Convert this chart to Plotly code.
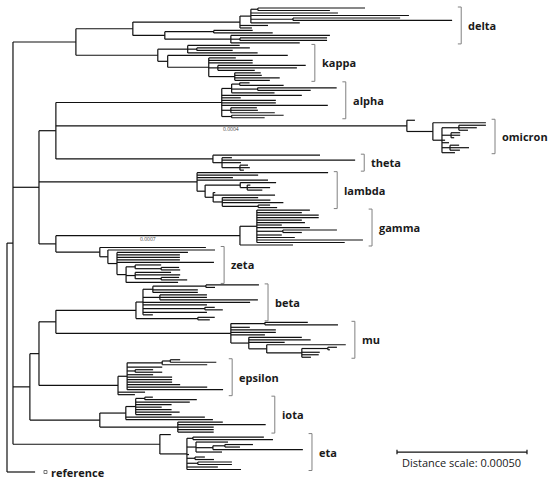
import plotly.graph_objects as go

# Branch lengths are in units of 1e-5 substitutions per site
UNIT = 1e-5

CLADE_ORDER = ["delta", "kappa", "alpha", "omicron", "theta", "lambda", "gamma",
               "zeta", "beta", "mu", "epsilon", "iota", "eta"]

BACKBONE = ("(((delta:21.9,kappa:31.5):24.2,((alpha:63.8,omicron:135,theta:60.4):6.5,"
            "lambda:60.8,(gamma:70.8,zeta:16.9):6.5):10,(((beta:30.8,mu:67.3):6.5,"
            "epsilon:30.4):3.5,iota:26.9):6.5,eta:56.5):2.3,reference:10.8)")

DELTA = ("((((:41.2,:27.7):2.7,:33.5,:60.8,(:41.2,:61.2):16.2,:18.8):4.2,:10.8,:4.6):41.2,"
         "((:15,:22.7):18.8,(:38.1,(:33.5,:33.5):3.5,:26.5):25.4):12.3)")
KAPPA = ("((:20,(:20.4,:13.8):3.5,:26.9):11.5,(:46.2,(:10.4,:16.9,:16.9,(:33.8,:30.4,:14.2):3.5,"
         "(:10,:10.4,:17.3,:13.5):10):15.8):3.8)")
ALPHA = ("(((:3.8,:16.9):3.1,(:30.4,:20.4):10,:16.5):3.8,:30.8,:7.3,:20.8,:20.8,:40.8,"
         "(:10,:10.4,:16.9):3.5,(:20,:12.7):3.8)")
OMICRON = ("(:3.1,(:20.4,((:10.4,:6.9,:3.5):6.5,(:3.5,:3.5,:1.2):3.5,:1.2,:2.7,"
           "(:3.5,:7.3,:3.8):3.1,:5):3.5):10)")
THETA = "(:41.2,(:3.8,:51.2,:7.3,(:3.1,:3.8,:1.5):6.9):3.5)"
LAMBDA = ("(:50.4,:23.5,:13.8,:27.3,((:13.8,(:1.2,:8.8,:5.8):2.7):13.5,(:0.8,:23.8,"
          "(:13.8,:18.5,:23.5,(:4.6,:7.3):13.8):3.5):3.1):3.1)")
GAMMA = ("((:20.4,:17.3,:23.8,:23.8,:17.3,:18.5,:9.6,:20.4,(:20.8,:7.3):10,:9.6,:14.6,"
         ":40.8,:33.8):6.5,:20.4)")
ZETA = ("(:40.8,(:41.2,(:27.3,:24.2,:24.2,:24.2,:37.3,((:10,(:6.9,:7.3):10):3.5,"
        "(:13.8,:17.3,(:6.9,:10):10):3.5,:20):3.5):3.5):3.1)")
BETA = ("((((:20.4,:3.5):20.4,:17.3,:17.3):3.8,(:18.1,:18.1,:37.7):6.5,:41.2,:24.6,"
        "(:3.8,:6.9):23.8,:24.6,:3.8):2.7,(:6.5,:4.6):23.8)")
MU = ("((:16.5,:28.1):13.1,:7.3,:17.3,:17.3,:13.1,(:20.4,:23.8,:13.8,(:30.4,"
      "((:3.5,:0.8):10,:6.9,:6.5,:3.5):13.5):6.9):6.9)")
EPSILON = ("((((:3.8,:17.7):3.1,:17.3):13.5,:13.5,(:6.9,:10.4):3.1,:10,:17.3,:17.3,:17.3,"
           ":20.4,:30.8,:36.9):3.5,:10.4,:6.5)")
IOTA = ("((((:3.1,:20):3.5,:20.8,:13.8,:10,:13.8,:16.9,:13.8):3.8,:30.4,:33.5):10,"
        "(:17.3,:33.8,:13.8,:13.8,:13.8):30)")
ETA = ("(:4.2,((:27.3,:30.8):2.3,(:12.3,((:10.8,:5.8):4.6,:34.6):6.5,:10):3.5,:0.8,"
       "(:3.8,:7.3):3.1,(:13.1,:13.1):4.2,:11.9,:20.8):10.4)")

CLADES = {"delta": DELTA, "kappa": KAPPA, "alpha": ALPHA, "omicron": OMICRON,
          "theta": THETA, "lambda": LAMBDA, "gamma": GAMMA, "zeta": ZETA,
          "beta": BETA, "mu": MU, "epsilon": EPSILON, "iota": IOTA, "eta": ETA}

BRANCH_LABELS = {"omicron": "0.0004", "gamma": "0.0007"}
OUTGROUP = "reference"
SCALE_LENGTH = 0.0005
SCALE_TEXT = "Distance scale: 0.00050"


def parse_newick(s):
    s = s.replace(" ", "").rstrip(";")
    pos = 0

    def node():
        nonlocal pos
        n = {"children": [], "name": "", "len": 0.0}
        if s[pos] == "(":
            pos += 1
            while True:
                n["children"].append(node())
                if s[pos] == ",":
                    pos += 1
                    continue
                if s[pos] == ")":
                    pos += 1
                    break
        start = pos
        while pos < len(s) and s[pos] not in ":,()":
            pos += 1
        n["name"] = s[start:pos]
        if pos < len(s) and s[pos] == ":":
            pos += 1
            start = pos
            while pos < len(s) and s[pos] not in ",()":
                pos += 1
            n["len"] = float(s[start:pos])
        return n

    return node()


def graft(n):
    for i, c in enumerate(n["children"]):
        if not c["children"] and c["name"] in CLADES:
            sub = parse_newick(CLADES[c["name"]])
            sub["len"] = c["len"]
            sub["clade"] = c["name"]
            n["children"][i] = sub
        else:
            graft(c)


tree = parse_newick(BACKBONE)
graft(tree)

counter = [0]


def layout(n, x0):
    n["x0"] = x0
    n["x"] = x0 + n["len"]
    if not n["children"]:
        n["y"] = counter[0]
        counter[0] += 1
        n["tips"] = [n["y"]]
        n["maxx"] = n["x"]
    else:
        for c in n["children"]:
            layout(c, n["x"])
        n["y"] = (n["children"][0]["y"] + n["children"][-1]["y"]) / 2
        n["tips"] = [t for c in n["children"] for t in c["tips"]]
        n["maxx"] = max(c["maxx"] for c in n["children"])


layout(tree, 0.0)

xs, ys = [], []
clade_nodes = {}
outgroup_node = None


def collect(n):
    global outgroup_node
    if n.get("clade"):
        clade_nodes[n["clade"]] = n
    if n["name"] == OUTGROUP:
        outgroup_node = n
    if n is not tree:
        xs.extend([n["x0"] * UNIT, n["x"] * UNIT, None])
        ys.extend([n["y"], n["y"], None])
    if n["children"]:
        xs.extend([n["x"] * UNIT, n["x"] * UNIT, None])
        ys.extend([n["children"][0]["y"], n["children"][-1]["y"], None])
        for c in n["children"]:
            collect(c)


collect(tree)

fig = go.Figure()
fig.add_trace(go.Scatter(x=xs, y=ys, mode="lines",
                         line=dict(color="#111111", width=1.2),
                         hoverinfo="skip", showlegend=False))

LABEL_FONT = dict(family="Open Sans", size=11, color="#1a1a1a")

annotations = []
bx_all, by_all = [], []
for name in CLADE_ORDER:
    n = clade_nodes[name]
    y1 = min(n["tips"]) - 0.4
    y2 = max(n["tips"]) + 0.4
    bx = (n["maxx"] + 3.5) * UNIT
    tick = 1.3 * UNIT
    bx_all.extend([bx - tick, bx, bx, bx - tick, None])
    by_all.extend([y1, y1, y2, y2, None])
    annotations.append(dict(x=bx + 2.0 * UNIT, y=(y1 + y2) / 2, text="<b>%s</b>" % name,
                            showarrow=False, xanchor="left", yanchor="middle",
                            font=LABEL_FONT))
    if name in BRANCH_LABELS:
        annotations.append(dict(x=(n["x0"] + n["x"]) / 2 * UNIT, y=n["y"] + 1.3,
                                text=BRANCH_LABELS[name], showarrow=False,
                                xanchor="center", yanchor="middle",
                                font=dict(family="Open Sans", size=5, color="#444444")))

fig.add_trace(go.Scatter(x=bx_all, y=by_all, mode="lines",
                         line=dict(color="#808080", width=1),
                         hoverinfo="skip", showlegend=False))

# outgroup label with small marker
ox = outgroup_node["x"]
fig.add_trace(go.Scatter(x=[(ox + 4.0) * UNIT], y=[outgroup_node["y"]], mode="markers",
                         marker=dict(symbol="square-open", size=3, color="#555555",
                                     line=dict(width=0.8)),
                         hoverinfo="skip", showlegend=False))
annotations.append(dict(x=(ox + 5.3) * UNIT, y=outgroup_node["y"], text="<b>%s</b>" % OUTGROUP,
                        showarrow=False, xanchor="left", yanchor="middle",
                        font=LABEL_FONT))

# scale bar
sx0 = 150 * UNIT
sy = 178.0
fig.add_trace(go.Scatter(x=[sx0, sx0 + SCALE_LENGTH, None, sx0, sx0, None,
                            sx0 + SCALE_LENGTH, sx0 + SCALE_LENGTH],
                         y=[sy, sy, None, sy - 0.9, sy + 0.9, None, sy - 0.9, sy + 0.9],
                         mode="lines", line=dict(color="#111111", width=1.2),
                         hoverinfo="skip", showlegend=False))
annotations.append(dict(x=sx0 + SCALE_LENGTH / 2, y=sy + 4.3, text=SCALE_TEXT,
                        showarrow=False, xanchor="center", yanchor="middle",
                        font=dict(family="Open Sans", size=11, color="#1a1a1a")))

fig.update_layout(
    width=550, height=483,
    margin=dict(l=0, r=0, t=0, b=0),
    paper_bgcolor="white", plot_bgcolor="white",
    xaxis=dict(visible=False, range=[-2.692 * UNIT, 208.85 * UNIT]),
    yaxis=dict(visible=False, range=[190.41, -3.207]),
    annotations=annotations,
    showlegend=False,
    hovermode=False,
)

# remove the browser's default 8px page margin so the figure sits at the window's corner
fig.write_html("out.html",
               config={"displayModeBar": False, "staticPlot": True},
               post_script="document.body.style.margin='0';document.body.style.overflow='hidden';")
